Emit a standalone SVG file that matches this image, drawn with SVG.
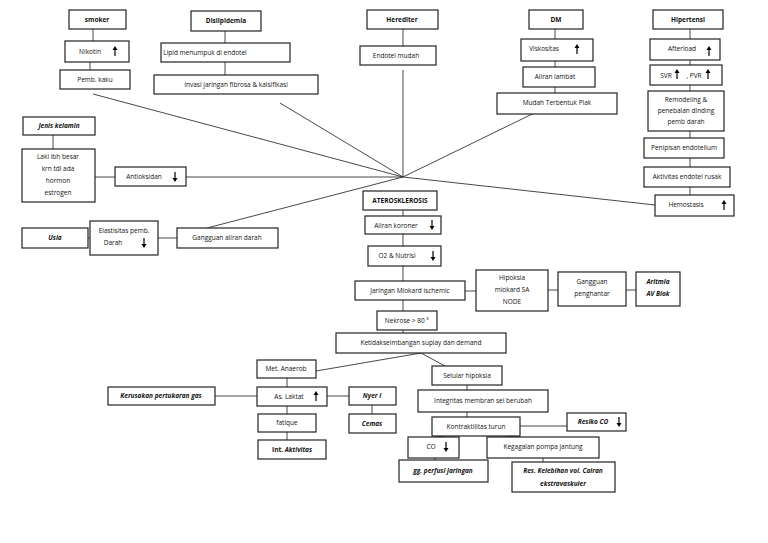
<svg xmlns="http://www.w3.org/2000/svg" xmlns:xlink="http://www.w3.org/1999/xlink" width="768" height="543" viewBox="0 0 768 543">
<style>
rect{fill:#fff;stroke:#222;stroke-width:1.2}
text{font-family:"Open Sans","Liberation Sans",sans-serif;font-size:6.5px;fill:#111;text-anchor:middle}
.b{font-weight:bold}
.i{font-style:italic;font-weight:bold}
#c line{stroke:#333;stroke-width:0.9}
</style>
<defs>
<g id="up"><line x1="0" y1="-3" x2="0" y2="5" stroke="#000" stroke-width="1.2"/><path d="M-2.5,-1 L0,-5 L2.5,-1 Z" fill="#000"/></g>
<g id="dn"><line x1="0" y1="-5" x2="0" y2="3" stroke="#000" stroke-width="1.2"/><path d="M-2.5,1 L0,5 L2.5,1 Z" fill="#000"/></g>
</defs>
<rect x="0" y="0" width="768" height="543" style="fill:#fff;stroke:none"/>
<g id="c">
<line x1="403" y1="177" x2="93" y2="94"/>
<line x1="403" y1="177" x2="280" y2="103"/>
<line x1="403" y1="177" x2="403" y2="70"/>
<line x1="403" y1="177" x2="561" y2="100"/>
<line x1="403" y1="177" x2="655" y2="205"/>
<line x1="403" y1="177" x2="186" y2="177"/>
<line x1="403" y1="177" x2="207" y2="228"/>
<line x1="93" y1="29" x2="93" y2="41"/><line x1="90" y1="62" x2="90" y2="70"/>
<line x1="225" y1="31" x2="225" y2="43"/><line x1="225" y1="62" x2="225" y2="75"/>
<line x1="403" y1="29" x2="403" y2="46"/>
<line x1="555" y1="29" x2="555" y2="93"/>
<line x1="690" y1="29" x2="690" y2="195"/>
<line x1="53" y1="135" x2="53" y2="149"/>
<line x1="95" y1="177" x2="115" y2="177"/>
<line x1="88" y1="238" x2="90" y2="238"/><line x1="158" y1="238" x2="177" y2="238"/>
<line x1="403" y1="210" x2="403" y2="333"/>
<line x1="465" y1="291" x2="476" y2="291"/><line x1="548" y1="290" x2="558" y2="290"/><line x1="626" y1="290" x2="636" y2="290"/>
<line x1="421" y1="353" x2="316" y2="371"/><line x1="421" y1="353" x2="445" y2="366"/>
<line x1="287" y1="378" x2="287" y2="440"/>
<line x1="215" y1="396" x2="257" y2="396"/><line x1="327" y1="396" x2="349" y2="396"/>
<line x1="372" y1="405" x2="372" y2="414"/>
<line x1="467" y1="385" x2="467" y2="417"/>
<line x1="520" y1="426" x2="567" y2="426"/>
<line x1="445" y1="436" x2="435" y2="437"/><line x1="505" y1="436" x2="520" y2="437"/>
<line x1="435" y1="458" x2="435" y2="460"/><line x1="543" y1="458" x2="543" y2="462"/>
</g>
<g id="smoker"><rect x="69" y="10" width="57" height="19"/><text class="b" x="97" y="22">smoker</text></g>
<g id="nikotin"><rect x="65" y="41" width="64" height="21"/><text x="90" y="54">Nikotin</text><use xlink:href="#up" x="115" y="51"/></g>
<g id="pemb"><rect x="60" y="70" width="70" height="19"/><text x="95" y="82">Pemb. kaku</text></g>
<g id="dislipidemia"><rect x="191" y="11" width="70" height="20"/><text class="b" x="226" y="23">Dislipidemia</text></g>
<g id="lipid"><rect x="161" y="43" width="129" height="19"/><text x="205" y="55">Lipid menumpuk di endotel</text></g>
<g id="invasi"><rect x="154" y="75" width="164" height="19"/><text x="236" y="87">Invasi  jaringan fibrosa &amp; kalsifikasi</text></g>
<g id="herediter"><rect x="367" y="10" width="71" height="19"/><text class="b" x="402" y="22">Herediter</text></g>
<g id="endotel"><rect x="360" y="46" width="76" height="19"/><text x="396" y="58">Endotel mudah</text></g>
<g id="dm"><rect x="529" y="10" width="54" height="19"/><text class="b" x="556" y="22">DM</text></g>
<g id="visk"><rect x="521" y="39" width="72" height="22"/><text x="544" y="51">Viskositas</text><use xlink:href="#up" x="577" y="49"/></g>
<g id="aliranl"><rect x="523" y="67" width="72" height="20"/><text x="555" y="79">Aliran lambat</text></g>
<g id="plak"><rect x="497" y="93" width="120" height="21"/><text x="557" y="105">Mudah Terbentuk Plak</text></g>
<g id="hipertensi"><rect x="653" y="10" width="70" height="19"/><text class="b" x="688" y="22">Hipertensi</text></g>
<g id="afterload"><rect x="650" y="39" width="70" height="21"/><text x="682" y="51">Afterload</text><use xlink:href="#up" x="709" y="51"/></g>
<g id="svr"><rect x="650" y="65" width="72" height="20"/><text x="666" y="78">SVR</text><use xlink:href="#up" x="677" y="74"/><text x="694" y="78">, PVR</text><use xlink:href="#up" x="708" y="74"/></g>
<g id="remodeling"><rect x="648" y="91" width="76" height="40"/><text x="686" y="102">Remodeling &amp;</text><text x="686" y="113">penebalan dinding</text><text x="686" y="124">pemb darah</text></g>
<g id="penipisan"><rect x="644" y="138" width="80" height="20"/><text x="684" y="150">Penipisan endotelium</text></g>
<g id="aktivitas"><rect x="644" y="167" width="86" height="20"/><text x="687" y="179">Aktivitas endotel rusak</text></g>
<g id="hemostasis"><rect x="655" y="195" width="79" height="21"/><text x="686" y="207">Hemostasis</text><use xlink:href="#up" x="724" y="205"/></g>
<g id="jenis"><rect x="23" y="117" width="72" height="18"/><text class="i" x="59" y="128">Jenis kelamin</text></g>
<g id="laki"><rect x="22" y="149" width="73" height="53"/><text x="58" y="159">Laki lbh besar</text><text x="58" y="171">krn tdl ada</text><text x="58" y="183">hormon</text><text x="58" y="195">estrogen</text></g>
<g id="antiok"><rect x="115" y="167" width="71" height="19"/><text x="144" y="179">Antioksidan</text><use xlink:href="#dn" x="175" y="177"/></g>
<g id="usia"><rect x="22" y="228" width="66" height="20"/><text class="i" x="55" y="240">Usia</text></g>
<g id="elast"><rect x="90" y="221" width="68" height="34"/><text x="124" y="233">Elastisitas pemb.</text><text x="113" y="245">Darah</text><use xlink:href="#dn" x="144" y="243"/></g>
<g id="gangguan"><rect x="177" y="228" width="101" height="20"/><text x="227" y="240">Gangguan aliran darah</text></g>
<g id="atero"><rect x="363" y="191" width="74" height="19"/><text class="b" x="400" y="203">ATEROSKLEROSIS</text></g>
<g id="koroner"><rect x="365" y="216" width="76" height="18"/><text x="396" y="228">Aliran koroner</text><use xlink:href="#dn" x="432" y="225"/></g>
<g id="o2"><rect x="368" y="246" width="73" height="20"/><text x="397" y="258">O2 &amp; Nutrisi</text><use xlink:href="#dn" x="433" y="256"/></g>
<g id="jaringan"><rect x="355" y="281" width="110" height="19"/><text x="410" y="293">Jaringan Miokard ischemic</text></g>
<g id="hipoksia"><rect x="476" y="270" width="72" height="41"/><text x="512" y="280">Hipoksia</text><text x="512" y="292">miokard SA</text><text x="512" y="304">NODE</text></g>
<g id="penghantar"><rect x="558" y="272" width="68" height="34"/><text x="592" y="284">Gangguan</text><text x="592" y="296">penghantar</text></g>
<g id="aritmia"><rect x="636" y="272" width="44" height="34"/><text class="i" x="658" y="284">Aritmia</text><text class="i" x="658" y="296">AV Blok</text></g>
<g id="nekrose"><rect x="377" y="311" width="60" height="19"/><text x="407" y="323">Nekrose &gt; 80 °</text></g>
<g id="ketidak"><rect x="336" y="333" width="170" height="20"/><text x="421" y="345">Ketidakseimbangan suplay dan demand</text></g>
<g id="met"><rect x="257" y="360" width="59" height="18"/><text x="286" y="371">Met. Anaerob</text></g>
<g id="selular"><rect x="432" y="366" width="70" height="19"/><text x="467" y="378">Selular hipoksia</text></g>
<g id="kerusakan"><rect x="108" y="387" width="107" height="18"/><text class="i" x="161" y="398">Kerusakan pertukaran gas</text></g>
<g id="laktat"><rect x="257" y="387" width="70" height="19"/><text x="289" y="399">As. Laktat</text><use xlink:href="#up" x="316" y="396"/></g>
<g id="nyeri"><rect x="349" y="387" width="47" height="18"/><text class="i" x="372" y="398">Nyer i</text></g>
<g id="integritas"><rect x="418" y="390" width="130" height="22"/><text x="483" y="403">Integritas membran sel berubah</text></g>
<g id="fatique"><rect x="258" y="414" width="58" height="18"/><text x="287" y="425">fatique</text></g>
<g id="cemas"><rect x="349" y="414" width="47" height="19"/><text class="i" x="372" y="426">Cemas</text></g>
<g id="kontraktilitas"><rect x="432" y="417" width="88" height="19"/><text x="476" y="429">Kontraktilitas turun</text></g>
<g id="resiko"><rect x="567" y="413" width="59" height="18"/><text class="i" x="593" y="424">Resiko  CO</text><use xlink:href="#dn" x="619" y="422"/></g>
<g id="co"><rect x="408" y="437" width="51" height="21"/><text x="431" y="449">CO</text><use xlink:href="#dn" x="446" y="447"/></g>
<g id="kegagalan"><rect x="487" y="437" width="112" height="21"/><text x="543" y="449">Kegagalan pompa jantung</text></g>
<g id="int"><rect x="258" y="440" width="68" height="19"/><text class="b" x="292" y="452">Int. <tspan font-style="italic">Aktivitas</tspan></text></g>
<g id="gg"><rect x="399" y="460" width="89" height="22"/><text class="i" x="443" y="473">gg. perfusi jaringan</text></g>
<g id="res"><rect x="512" y="462" width="103" height="30"/><text class="i" x="563" y="473">Res. Kelebihan vol. Cairan</text><text class="i" x="563" y="486">ekstravaskuler</text></g>
</svg>
